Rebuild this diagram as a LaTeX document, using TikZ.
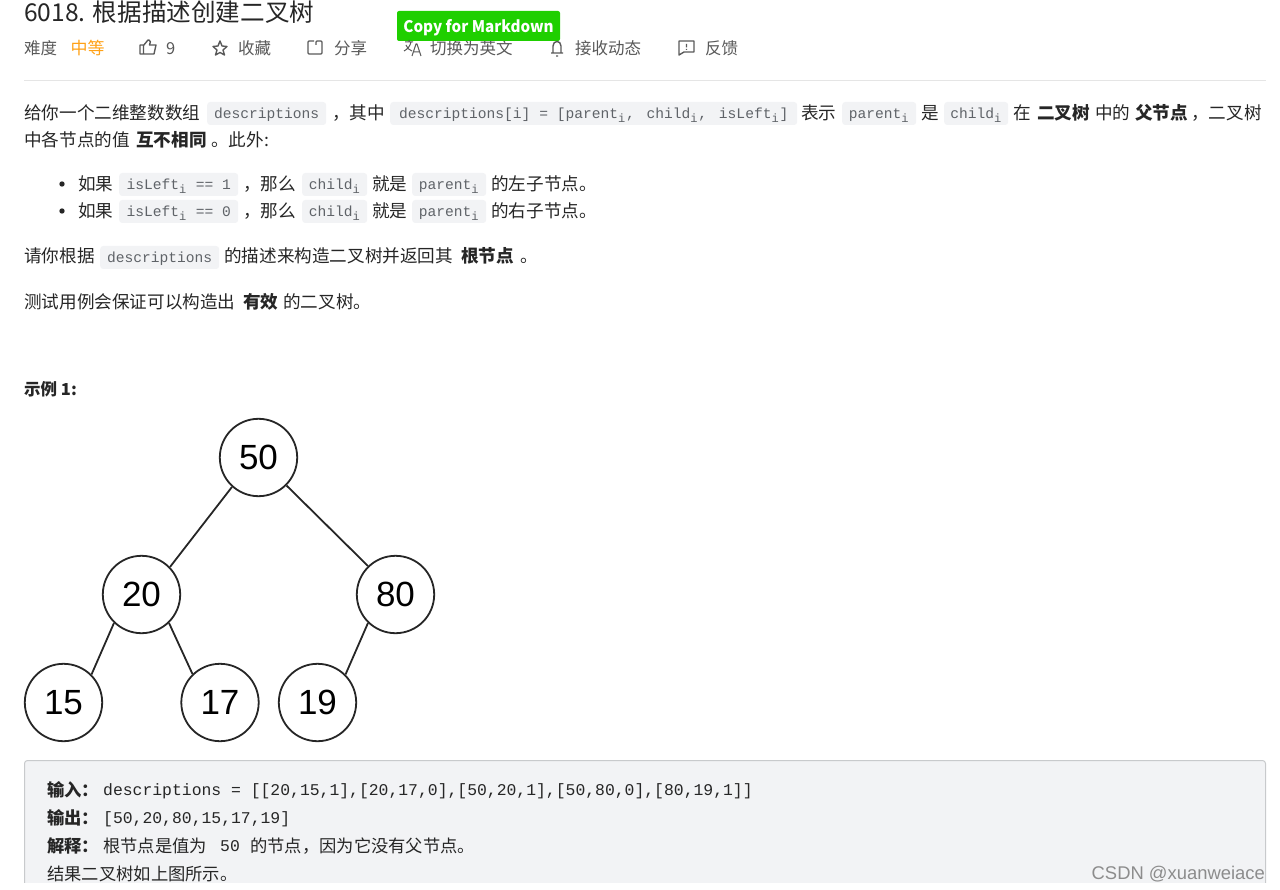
\documentclass[tikz,border=0pt]{standalone}
\usepackage{fontspec}
\setmainfont{Noto Sans CJK SC}
\setmonofont{Liberation Mono}
\newfontfamily\arial{Liberation Sans}
\definecolor{inktext}{HTML}{262626}
\definecolor{greytext}{HTML}{595959}
\definecolor{codetext}{HTML}{5F6368}
\definecolor{codefill}{HTML}{F2F3F5}
\definecolor{rulegrey}{HTML}{E5E5E5}
\definecolor{boxedge}{HTML}{C8CACC}
\definecolor{orangetext}{HTML}{FFA116}
\definecolor{greenbtn}{HTML}{1FCF00}
\newcommand{\subi}{\makebox[8pt][l]{\raisebox{-3.5pt}{\fontsize{12}{12}\selectfont i}}}
\tikzset{
    txt/.style = {anchor = base west, inner sep = 0pt, text = inktext, font = \fontsize{17.6}{17.6}\selectfont},
    bold/.style = {txt, font = \fontsize{17.6}{17.6}\selectfont\bfseries},
    menu/.style = {txt, text = greytext, font = \fontsize{16.5}{16.5}\selectfont},
    code/.style = {draw = none, fill = codefill, rounded corners = 3pt, minimum height = 23pt, inner sep = 0pt,
        text = codetext, anchor = base west, text depth = 6pt, text height = 17pt,
        font = \ttfamily\fontsize{14.6}{14.6}\selectfont},
    codeline/.style = {txt, font = \ttfamily\fontsize{16.4}{16.4}\selectfont},
    cjkline/.style = {txt, font = \fontsize{17.3}{17.3}\selectfont},
    cjkhead/.style = {txt, font = \fontsize{17.3}{17.3}\selectfont\bfseries},
    tnode/.style = {shape = circle, draw = inktext, line width = 1.8pt, fill = white, minimum size = 77.4pt, inner sep = 0pt,
        text = black, font = \arial\fontsize{35}{35}\selectfont},
    tedge/.style = {draw = inktext, line width = 1.8pt},
    icon/.style = {draw = greytext, line width = 1.4pt, line join = round}
}
\begin{document}
\begin{tikzpicture}[x = 1pt, y = -1pt]
    \useasboundingbox (0,0) rectangle (1280,890);
    % header
    \node[txt, font = \fontsize{24.6}{24.6}\selectfont] (title) at (24,21.5) {6018. 根据描述创建二叉树};
    \node[menu] (level) at (24,55) {难度};
    \node[menu, text = orangetext, font = \fontsize{17}{17}\selectfont] (medium) at (70.5,55) {中等};
    \node[menu] (likes) at (166,55) {9};
    \node[menu] (fav) at (238,55) {收藏};
    \node[menu] (share) at (334,55) {分享};
    \node[menu] (lang) at (430,55) {切换为英文};
    \node[menu] (notice) at (575,55) {接收动态};
    \node[menu] (report) at (705,55) {反馈};
    \node[fill = greenbtn, text = white, rounded corners = 2pt, anchor = base, minimum width = 163pt, minimum height = 30pt,
        text height = 19pt, text depth = 5pt, inner sep = 0pt, font = \fontsize{16}{16}\selectfont\bfseries] (copy) at (478.5,33) {\scalebox{0.95}[1]{Copy for Markdown}};
    % icons
    \draw[icon] (140,45) -- (143.5,45) -- (143.5,54) -- (140,54) -- cycle (143.5,45.5) -- (148,40) -- (149,40) .. controls (151,40) and (150.5,43) .. (149.5,45) -- (156,45) -- (154,54) -- (143.5,54);
    \draw[icon] (220,41) -- (222,46) -- (227,46.5) -- (223,50) -- (224.5,55) -- (220,52.5) -- (215.5,55) -- (217,50) -- (213,46.5) -- (218,46) -- cycle;
    \draw[icon, rounded corners = 1pt] (314,41) -- (308,41) -- (308,54) -- (322,54) -- (322,41) -- (316,41) -- (316,45);
    \draw[icon, line width = 1pt] (405,42) -- (413,42) (409,40) -- (409,42) (411,42) .. controls (410,46) and (408,49) .. (404,51) (406,45) .. controls (407,48) and (409,50) .. (412,51);
    \draw[icon, line width = 1pt] (412,56) -- (416,44) -- (417,44) -- (421,56) (413.5,52) -- (419.5,52);
    \draw[icon] (551,53) -- (563,53) (553,53) -- (553,46) .. controls (553,40) and (561,40) .. (561,46) -- (561,53) (556,56) -- (558,56);
    \draw[icon] (679,41) -- (694,41) -- (694,52) -- (684,52) -- (679,55) -- cycle (686.5,44) -- (686.5,47.5) (686.5,49) -- (686.5,50);
    \draw[draw = rulegrey, line width = 1pt] (24,80.5) -- (1266,80.5);
    % first paragraph
    \node[txt] (introa) at (24,120) {给你一个二维整数数组};
    \node[code, minimum width = 119pt] (desca) at (207,119) {descriptions};
    \node[txt] (introb) at (332,120) {，其中};
    \node[code, minimum width = 407pt] (descb) at (390,119) {descriptions[i] = [parent\subi,\hspace{3pt} child\subi,\hspace{3pt} isLeft\subi]};
    \node[txt] (introc) at (801,120) {表示};
    \node[code, minimum width = 74pt] (parenta) at (842,119) {parent\subi};
    \node[txt] (introd) at (921,120) {是};
    \node[code, minimum width = 64pt] (childa) at (944,119) {child\subi};
    \node[txt] (introe) at (1013,120) {在};
    \node[bold] (treea) at (1037,120) {二叉树};
    \node[txt] (introf) at (1095,120) {中的};
    \node[bold] (father) at (1135,120) {父节点};
    \node[txt] (introg) at (1191,120) {，二叉树};
    \node[txt] (introh) at (24,147) {中各节点的值};
    \node[bold] (unique) at (136,147) {互不相同};
    \node[txt] (introi) at (211,147) {。此外:};
    % bullets
    \fill[inktext] (62,184) circle (2.7pt) (62,211) circle (2.7pt);
    \node[txt] (ifa) at (78,191) {如果};
    \node[code, minimum width = 119pt] (lefta) at (119,190) {isLeft\subi{} == 1};
    \node[txt] (thena) at (243,191) {，那么};
    \node[code, minimum width = 65pt] (childb) at (302,190) {child\subi};
    \node[txt] (isa) at (372,191) {就是};
    \node[code, minimum width = 74pt] (parentb) at (412,190) {parent\subi};
    \node[txt] (ofa) at (491,191) {的左子节点。};
    \node[txt] (ifb) at (78,218) {如果};
    \node[code, minimum width = 119pt] (leftb) at (119,217) {isLeft\subi{} == 0};
    \node[txt] (thenb) at (243,218) {，那么};
    \node[code, minimum width = 65pt] (childc) at (302,217) {child\subi};
    \node[txt] (isb) at (372,218) {就是};
    \node[code, minimum width = 74pt] (parentc) at (412,217) {parent\subi};
    \node[txt] (ofb) at (491,218) {的右子节点。};
    % second paragraph
    \node[txt] (aska) at (24,263) {请你根据};
    \node[code, minimum width = 119pt] (descc) at (100,263) {descriptions};
    \node[txt] (askb) at (224,263) {的描述来构造二叉树并返回其};
    \node[bold] (rootword) at (461,263) {根节点};
    \node[txt] (askc) at (520,263) {。};
    \node[txt] (testa) at (24,309) {测试用例会保证可以构造出};
    \node[bold] (validword) at (243,309) {有效};
    \node[txt] (testb) at (283,309) {的二叉树。};
    \node[bold, font = \fontsize{16.5}{16.5}\selectfont\bfseries] (example) at (24,395.5) {示例 1:};
    % tree
    \node[tnode] (n50) at (258.5,457.5) {50};
    \node[tnode] (n20) at (141.5,594.5) {20};
    \node[tnode] (n80) at (395.5,594.5) {80};
    \node[tnode] (n15) at (63.5,702.5) {15};
    \node[tnode] (n17) at (220,702.5) {17};
    \node[tnode] (n19) at (317.5,702.5) {19};
    \draw[tedge] (n50.228) -- (n20.44);
    \draw[tedge] (n50.315) -- (n80.134);
    \draw[tedge] (n20.226) -- (n15.45);
    \draw[tedge] (n20.314) -- (n17.134);
    \draw[tedge] (n80.226) -- (n19.45);
    % code box
    \path[fill = codefill, draw = boxedge, line width = 1pt, rounded corners = 3pt] (24.5,883) -- (24.5,760.5) -- (1265.5,760.5) -- (1265.5,883);
    \node[cjkhead] (inlabel) at (47,796) {输入：};
    \node[codeline] (inval) at (103,795.5) {descriptions = [[20,15,1],[20,17,0],[50,20,1],[50,80,0],[80,19,1]]};
    \node[cjkhead] (outlabel) at (47,824) {输出：};
    \node[codeline] (outval) at (103,823.5) {[50,20,80,15,17,19]};
    \node[cjkhead] (whylabel) at (47,852) {解释：};
    \node[cjkline] (whyval) at (103,852) {根节点是值为};
    \node[codeline] (whynum) at (220,851.5) {50};
    \node[cjkline] (whyend) at (250,852) {的节点，因为它没有父节点。};
    \node[cjkline] (result) at (47,880) {结果二叉树如上图所示。};
    \fill[white] (0,883) rectangle (1280,890);
    \node[anchor = base east, inner sep = 0pt, text = black!45, font = \arial\fontsize{18.4}{18.4}\selectfont] (mark) at (1265,879) {CSDN @xuanweiace};
\end{tikzpicture}
\end{document}
